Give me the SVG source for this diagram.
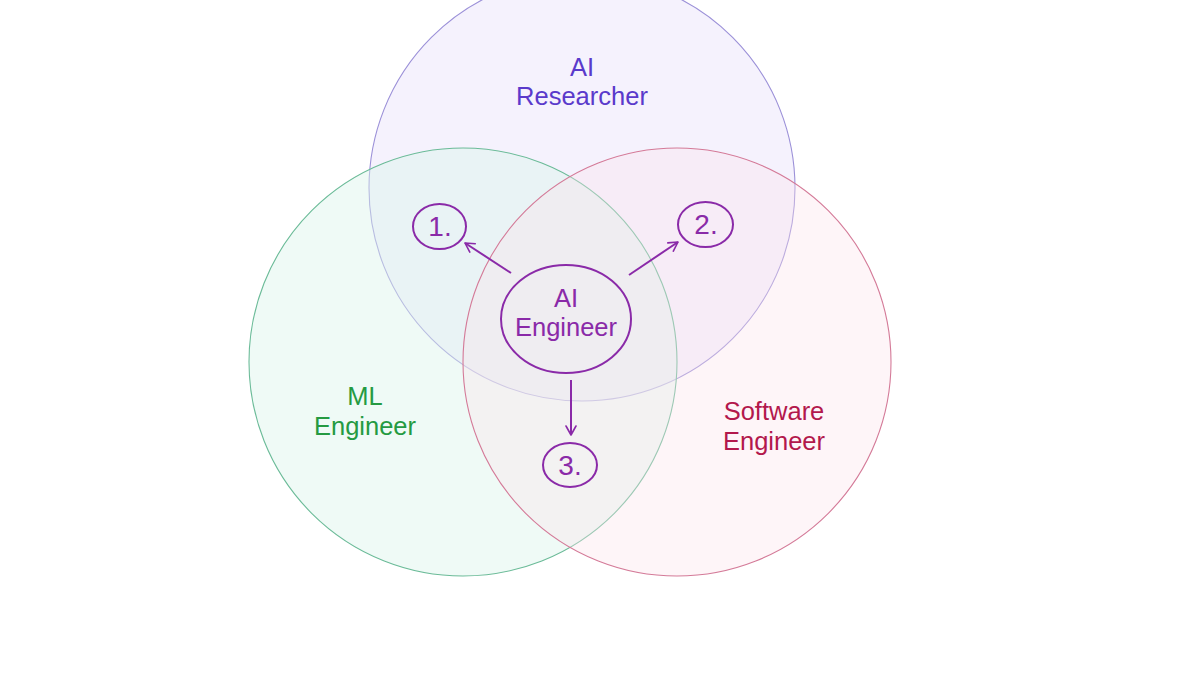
<svg xmlns="http://www.w3.org/2000/svg" width="1200" height="675" viewBox="0 0 1200 675">
<defs>
<marker id="arr" viewBox="0 0 12 12" refX="10" refY="6" markerWidth="12" markerHeight="12" markerUnits="userSpaceOnUse" orient="auto">
<path d="M1,1 L10,6 L1,11" fill="none" stroke="#8a2aa8" stroke-width="1.6" stroke-linecap="round" stroke-linejoin="round"/>
</marker>
<style>
text{font-family:"Helvetica Neue","Liberation Sans",Arial,sans-serif;font-size:25.5px;text-anchor:middle;dominant-baseline:central}
.set{stroke-width:1.1}
.node{fill:none;stroke:#8a2aa8;stroke-width:2}
.lbl{fill:#8a2aa8}
.num{font-size:28px}
.conn{stroke:#8a2aa8;stroke-width:2;fill:none;marker-end:url(#arr)}
</style>
</defs>
<rect width="1200" height="675" fill="#ffffff"/>
<g id="researcher">
<circle class="set" cx="582" cy="188" r="213" fill="#ece6fb" fill-opacity="0.5" stroke="#9b90d8"/>
<text x="582" y="67" fill="#5a3acb">AI</text>
<text x="582" y="96" fill="#5a3acb">Researcher</text>
</g>
<g id="ml">
<circle class="set" cx="463" cy="362" r="214" fill="#dcf3ec" fill-opacity="0.45" stroke="#6bbb98"/>
<text x="365" y="396" fill="#259a42">ML</text>
<text x="365" y="426" fill="#259a42">Engineer</text>
</g>
<g id="software">
<circle class="set" cx="677" cy="362" r="214" fill="#fbe2ec" fill-opacity="0.35" stroke="#d47a98"/>
<text x="774" y="411" fill="#b3184c">Software</text>
<text x="774" y="441" fill="#b3184c">Engineer</text>
</g>
<g id="ai-engineer">
<ellipse class="node" cx="566" cy="319" rx="65" ry="54"/>
<text class="lbl" x="566" y="298">AI</text>
<text class="lbl" x="566" y="327">Engineer</text>
</g>
<g id="n1">
<ellipse class="node" cx="439.5" cy="226.5" rx="26.5" ry="22.5"/>
<text class="lbl num" x="440" y="226">1.</text>
</g>
<g id="n2">
<ellipse class="node" cx="705.5" cy="224.5" rx="27.5" ry="22.5"/>
<text class="lbl num" x="706" y="224">2.</text>
</g>
<g id="n3">
<ellipse class="node" cx="570" cy="465" rx="27" ry="22"/>
<text class="lbl num" x="570" y="465">3.</text>
</g>
<g id="connectors">
<line class="conn" x1="511" y1="273" x2="465" y2="243"/>
<line class="conn" x1="629" y1="275" x2="678" y2="242"/>
<line class="conn" x1="571" y1="380" x2="571" y2="435"/>
</g>
</svg>
